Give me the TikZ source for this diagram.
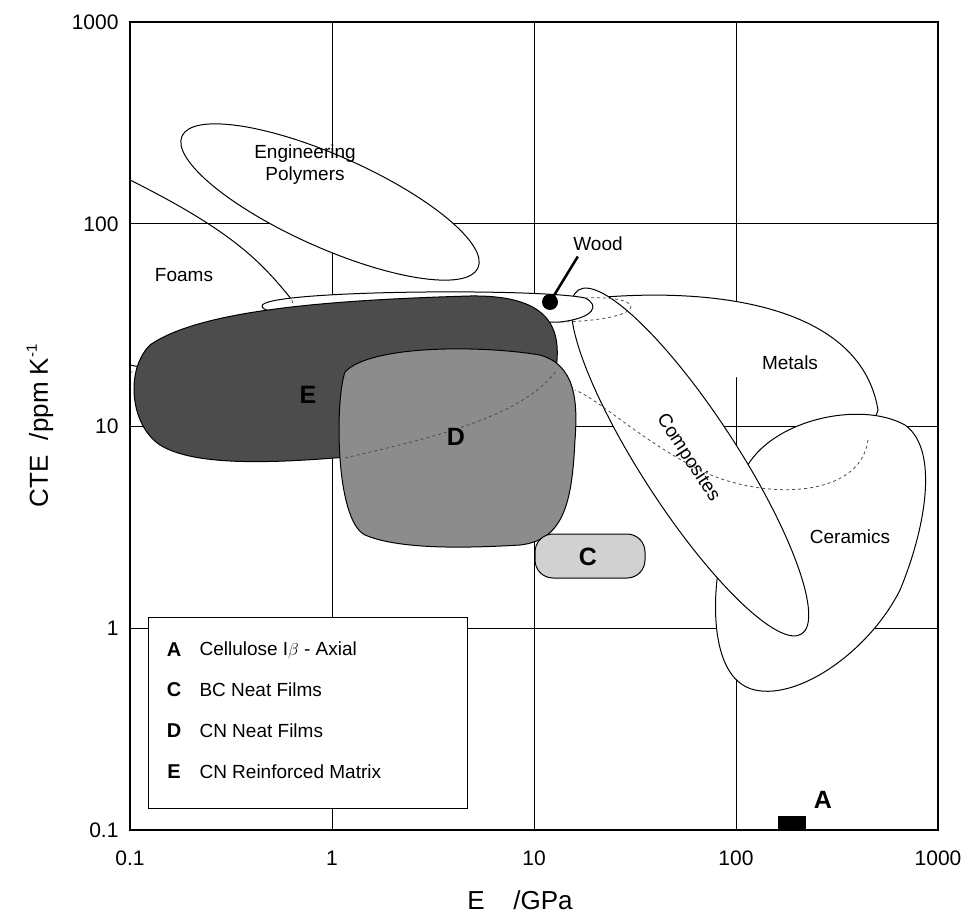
\documentclass[tikz,border=0pt]{standalone}
\usepackage{fontspec}
\setmainfont{Liberation Sans}
\begin{document}
\begin{tikzpicture}[x=1pt,y=-1pt,
  reg/.style={draw=black,line width=1pt},
  dsh/.style={draw=black!70,dashed,line width=0.8pt},
  lbl/.style={font=\fontsize{19}{22}\selectfont},
  tick/.style={font=\fontsize{21}{23}\selectfont},
  big/.style={font=\bfseries\fontsize{25}{27}\selectfont}]
\useasboundingbox (0,0) rectangle (969,920);
% grid
\foreach \v in {332,534,736} \draw[line width=1pt] (\v,22) -- (\v,830);
\foreach \v in {224,426,628} \draw[line width=1pt] (130,\v) -- (938,\v);
% foams
\draw[reg] (130,180) .. controls (230,230) and (260,260) .. (292,300);
\draw[reg] (130,365) -- (165,372);
\node[lbl] (fo) at (184,275) {Foams};
% engineering polymers
\draw[reg,fill=white] (330,202) ellipse[x radius=162,y radius=46,rotate=-24];
\node[lbl,align=center] (ep) at (305,165) {Engineering\\Polymers};
% metals
\draw[reg,fill=white] (575,300) .. controls (700,285) and (860,300) .. (878,410) -- (868,440);
\node[lbl] (me) at (790,363) {Metals};
% ceramics
\draw[reg,fill=white] (745,470) .. controls (770,420) and (860,400) .. (905,425) .. controls (940,450) and (925,530) .. (900,590) .. controls (870,650) and (800,700) .. (755,690) .. controls (710,680) and (712,600) .. (720,560) .. controls (725,520) and (735,490) .. (745,470);
\node[lbl] (ce) at (850,537) {Ceramics};
% composites
\draw[reg,fill=white] (690,462) ellipse[x radius=205,y radius=48,rotate=-57];
\node[lbl,rotate=-57] (co) at (688,458) {Composites};
\draw[dsh] (868,440) .. controls (860,500) and (760,500) .. (700,470) .. controls (640,440) and (600,400) .. (575,390);
% wood
\draw[reg,fill=white] (262,306) .. controls (262,290) and (540,288) .. (585,298) .. controls (600,305) and (595,318) .. (560,322) .. controls (450,325) and (262,322) .. (262,306);
\draw[dsh] (585,298) .. controls (650,295) and (650,320) .. (560,322);
% E
\draw[reg,fill=black!70] (150,345) .. controls (200,310) and (330,300) .. (470,296) .. controls (540,295) and (560,320) .. (557,360) .. controls (555,410) and (520,440) .. (400,452) .. controls (300,462) and (200,470) .. (160,445) .. controls (130,425) and (125,370) .. (150,345);
\draw[dsh] (292,300) .. controls (300,340) and (270,370) .. (210,372) -- (130,372);
\node[big] (e) at (308,395) {E};
% D
\draw[reg,fill=black!45] (345,372) .. controls (370,345) and (480,345) .. (540,355) .. controls (575,365) and (578,400) .. (575,440) .. controls (572,500) and (565,540) .. (520,545) .. controls (470,548) and (400,550) .. (365,535) .. controls (335,520) and (335,400) .. (345,372);
\draw[dsh] (345,458) .. controls (420,440) and (520,420) .. (557,370);
\node[big] (d) at (456,437) {D};
% C
\draw[reg,fill=black!18,rounded corners=18pt] (535,534) rectangle (645,578);
\node[big] (c) at (588,557) {C};
% wood label
\fill (550,302) circle (8);
\coordinate (wd) at (550,302);
\node[lbl] (wo) at (598,244) {Wood};
\draw[line width=2.5pt] (wo.south west) ++(8,2) -- (wd);
% A
\fill (778,816) rectangle (806,830);
\node[big] (a) at (823,800) {A};
% frame
\draw[line width=2pt] (130,22) rectangle (938,830);
% legend
\draw[line width=1pt,fill=white] (148,617) rectangle (467,808);
\foreach \y/\l/\t in {650/A/{Cellulose I$\beta$ - Axial},690/C/BC Neat Films,731/D/CN Neat Films,772/E/CN Reinforced Matrix}{
  \node[font=\bfseries\fontsize{20}{22}\selectfont] at (174,\y) {\l};
  \node[lbl,anchor=west] at (196,\y) {\t};}
% ticks
\foreach \v/\t in {130/0.1,332/1,534/10,736/100,938/1000} \node[tick] at (\v,858) {\t};
\foreach \v/\t in {22/1000,224/100,426/10,628/1,830/0.1} \node[tick,anchor=east] at (122,\v) {\t};
\node[font=\fontsize{26}{28}\selectfont] (xl) at (520,900) {E\hspace{1.1em}/GPa};
\node[font=\fontsize{26}{28}\selectfont,rotate=90] (yl) at (40,426) {CTE\hspace{0.6em}/ppm K\raisebox{0.8ex}{\fontsize{15}{16}\selectfont -1}};
\end{tikzpicture}
\end{document}
